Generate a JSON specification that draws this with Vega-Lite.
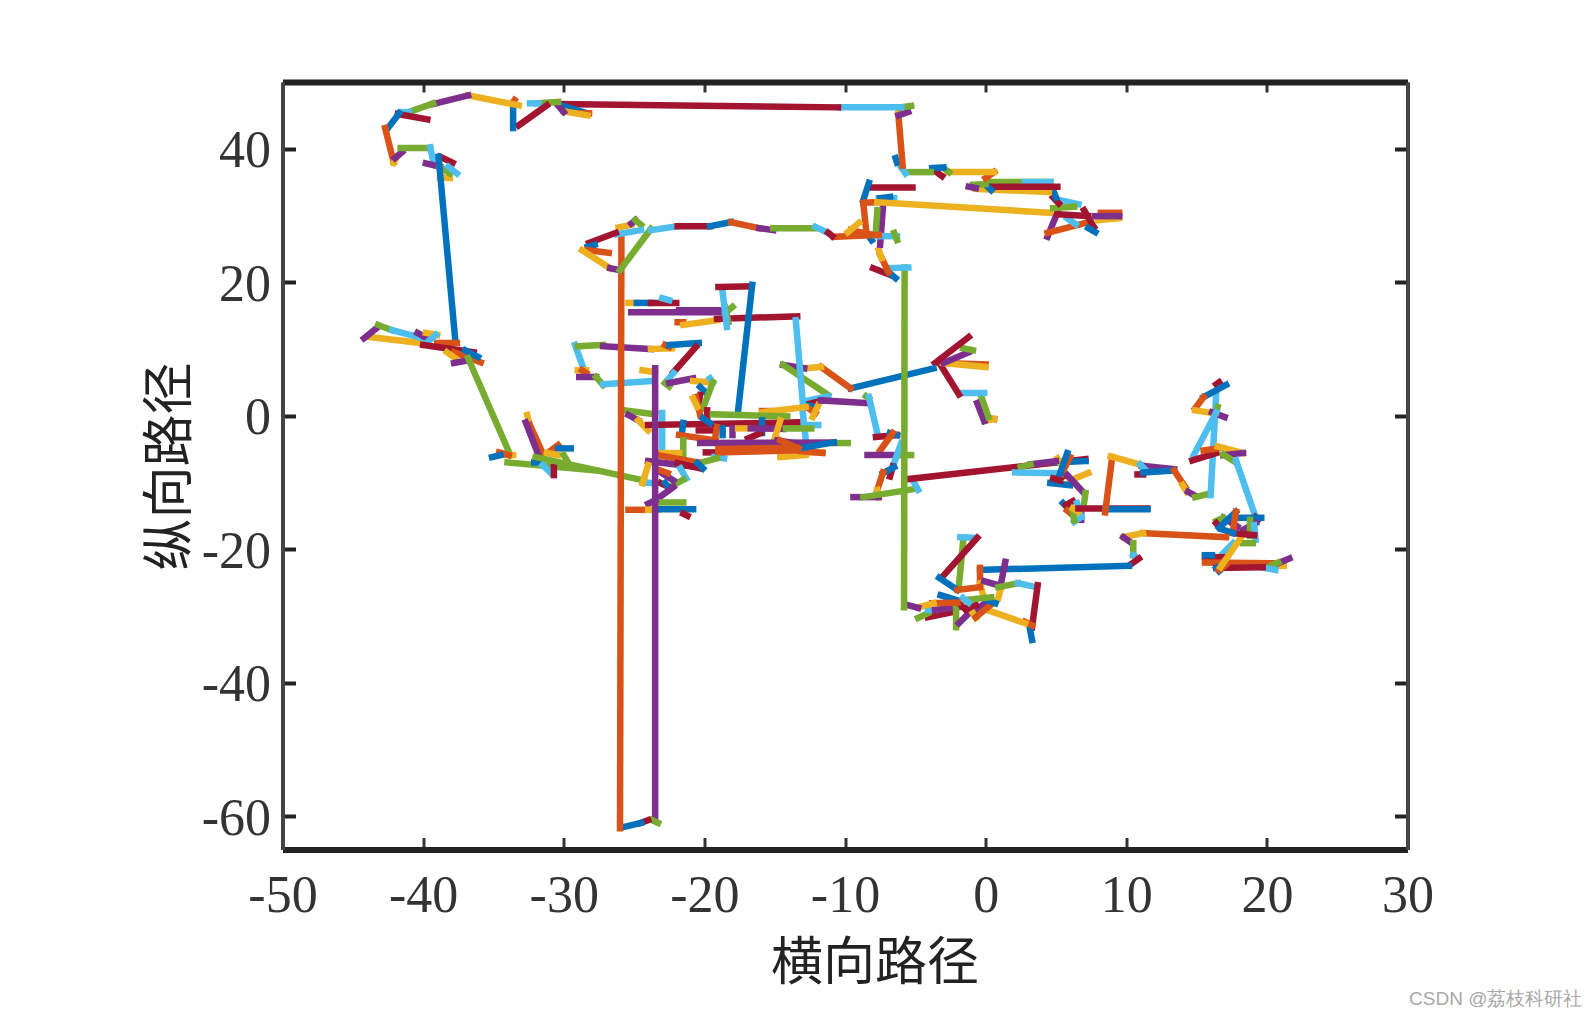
{"$schema":"https://vega.github.io/schema/vega-lite/v6.json","autosize":"none","padding":{"left":282.5,"top":82,"right":188.5,"bottom":170.5},"width":1125,"height":767.5,"background":"white","config":{"view":{"stroke":null}},
"title":{"text":"CSDN @荔枝科研社","orient":"bottom","anchor":"end","frame":"group","font":"Liberation Sans","fontSize":19,"fontWeight":"normal","color":"#a8a8a8","dx":175,"offset":0},
"datasets":{"path":[
{"x":0,"y":0,"x2":0,"y2":-0.3,"c":"b"},{"x":0,"y":-0.3,"x2":0.6,"y2":-0.5,"c":"o"},{"x":0.6,"y":-0.5,"x2":-0.1,"y2":-0.8,"c":"y"},{"x":-0.1,"y":-0.8,"x2":-0.6,"y2":1.9,"c":"p"},{"x":0.2,"y":-0.2,"x2":-0.3,"y2":2.8,"c":"g"},{"x":-0.1,"y":3.4,"x2":-1.6,"y2":3.4,"c":"l"},{"x":-1.9,"y":3.2,"x2":-3.2,"y2":7.6,"c":"m"},{"x":-3.1,"y":7.9,"x2":0,"y2":7.7,"c":"o"},{"x":0,"y":7.3,"x2":-3,"y2":7.9,"c":"y"},{"x":-3,"y":7.9,"x2":-1.2,"y2":9.5,"c":"p"},{"x":-1.6,"y":10.1,"x2":-0.9,"y2":9.8,"c":"g"},{"x":-1.2,"y":11.8,"x2":-3.6,"y2":7.9,"c":"m"},{"x":-3.7,"y":7.1,"x2":-9.6,"y2":4.1,"c":"b"},{"x":-9.6,"y":4.1,"x2":-11.7,"y2":7.3,"c":"o"},{"x":-11.7,"y":7.3,"x2":-12.9,"y2":7.1,"c":"y"},{"x":-12.9,"y":7.1,"x2":-14.4,"y2":7.6,"c":"p"},{"x":-14.4,"y":7.6,"x2":-11.2,"y2":3.1,"c":"g"},{"x":-11.2,"y":2.9,"x2":-12.8,"y2":2.2,"c":"l"},{"x":-12.7,"y":1.7,"x2":-11.7,"y2":2.2,"c":"m"},{"x":-12.9,"y":1.6,"x2":-12.3,"y2":1.4,"c":"b"},{"x":-12.6,"y":1.1,"x2":-12.1,"y2":0.4,"c":"o"},{"x":-11.9,"y":1.6,"x2":-12.3,"y2":-0.2,"c":"y"},{"x":-11.7,"y":2.3,"x2":-8.5,"y2":1.9,"c":"p"},{"x":-8.5,"y":2.9,"x2":-8.3,"y2":2.6,"c":"g"},{"x":-8.3,"y":2.8,"x2":-7.7,"y2":-2.6,"c":"l"},{"x":-7.8,"y":-3.2,"x2":-6.3,"y2":-2.9,"c":"m"},{"x":-6.3,"y":-2.9,"x2":-6.8,"y2":-2.6,"c":"b"},{"x":-6.6,"y":-2.6,"x2":-7.5,"y2":-5.2,"c":"o"},{"x":-8.4,"y":-5.9,"x2":-6.3,"y2":-5.9,"c":"p"},{"x":-5.9,"y":-5.9,"x2":-5.3,"y2":-5.9,"c":"g"},{"x":-6,"y":-4.1,"x2":-6.6,"y2":-7.6,"c":"l"},{"x":-6.6,"y":-7.6,"x2":-6.8,"y2":-9.1,"c":"m"},{"x":-6.5,"y":-7.7,"x2":-7.3,"y2":-8.6,"c":"b"},{"x":-7.3,"y":-8.5,"x2":-7.7,"y2":-11.1,"c":"o"},{"x":-7.7,"y":-11.1,"x2":-7.6,"y2":-12.2,"c":"y"},{"x":-7.6,"y":-12.2,"x2":-9.4,"y2":-12.2,"c":"p"},{"x":-8.7,"y":-12.2,"x2":-5.1,"y2":-11,"c":"g"},{"x":-5.1,"y":-10,"x2":-4.8,"y2":-11.1,"c":"l"},{"x":-5.5,"y":-9.5,"x2":7.1,"y2":-6.5,"c":"m"},{"x":7.1,"y":-6.8,"x2":5.1,"y2":-7,"c":"b"},{"x":5.1,"y":-6.4,"x2":5.3,"y2":-7.1,"c":"y"},{"x":5,"y":-6.8,"x2":3.2,"y2":-7.3,"c":"p"},{"x":3.2,"y":-7.3,"x2":2.5,"y2":-7.7,"c":"g"},{"x":2.1,"y":-8.5,"x2":5.1,"y2":-8.6,"c":"l"},{"x":5.1,"y":-9.4,"x2":5.5,"y2":-9.1,"c":"m"},{"x":6,"y":-6.2,"x2":5.3,"y2":-9.2,"c":"o"},{"x":5.8,"y":-5.6,"x2":5.2,"y2":-9.2,"c":"b"},{"x":7.3,"y":-8.6,"x2":6,"y2":-9.7,"c":"y"},{"x":4.6,"y":-10.1,"x2":6,"y2":-10.4,"c":"b"},{"x":4.8,"y":-9.4,"x2":5.3,"y2":-9.7,"c":"m"},{"x":5.8,"y":-8.9,"x2":7,"y2":-11.6,"c":"p"},{"x":7.1,"y":-11.6,"x2":7,"y2":-13.1,"c":"g"},{"x":5.5,"y":-13.1,"x2":6,"y2":-14.2,"c":"b"},{"x":5.7,"y":-13.4,"x2":6.2,"y2":-12.8,"c":"m"},{"x":5.8,"y":-14.2,"x2":6.2,"y2":-14.9,"c":"o"},{"x":6.8,"y":-14.8,"x2":6.8,"y2":-15.6,"c":"p"},{"x":6.5,"y":-13.1,"x2":6.8,"y2":-15.2,"c":"l"},{"x":6.8,"y":-15.2,"x2":6.3,"y2":-15.9,"c":"l"},{"x":6.2,"y":-14.5,"x2":6.3,"y2":-15.7,"c":"g"},{"x":6.2,"y":-13.9,"x2":6.6,"y2":-14.4,"c":"y"},{"x":6.6,"y":-13.9,"x2":11.5,"y2":-13.9,"c":"m"},{"x":11.5,"y":-14,"x2":8.5,"y2":-14,"c":"b"},{"x":8.5,"y":-14.5,"x2":9,"y2":-6.2,"c":"o"},{"x":8.9,"y":-6.1,"x2":11.1,"y2":-7.4,"c":"y"},{"x":11.1,"y":-7.5,"x2":13.4,"y2":-8,"c":"p"},{"x":11,"y":-7.3,"x2":11.4,"y2":-8.2,"c":"l"},{"x":10.8,"y":-8.8,"x2":11.2,"y2":-8.8,"c":"m"},{"x":11.2,"y":-8.5,"x2":13.4,"y2":-8.2,"c":"b"},{"x":13.4,"y":-8.2,"x2":14.2,"y2":-10.7,"c":"o"},{"x":14,"y":-10.4,"x2":14.3,"y2":-11.4,"c":"y"},{"x":14.4,"y":-11.4,"x2":14.9,"y2":-12,"c":"p"},{"x":14.9,"y":-12.2,"x2":15.9,"y2":-11.7,"c":"g"},{"x":16,"y":-11.9,"x2":16.4,"y2":3.4,"c":"l"},{"x":16.4,"y":4.7,"x2":16.6,"y2":5,"c":"m"},{"x":17.1,"y":4.6,"x2":15.5,"y2":2.8,"c":"b"},{"x":15.5,"y":2.8,"x2":14.9,"y2":1.1,"c":"o"},{"x":14.9,"y":0.8,"x2":16.1,"y2":0.4,"c":"y"},{"x":16.1,"y":0.5,"x2":17,"y2":-0.2,"c":"p"},{"x":16.5,"y":1.3,"x2":16.4,"y2":0.5,"c":"g"},{"x":16.4,"y":0.5,"x2":14.8,"y2":-5.9,"c":"l"},{"x":14.7,"y":-6.7,"x2":16.4,"y2":-5.6,"c":"m"},{"x":15.5,"y":-5.2,"x2":16.5,"y2":-4.9,"c":"o"},{"x":16.5,"y":-4.6,"x2":18.3,"y2":-5.6,"c":"y"},{"x":18.3,"y":-5.6,"x2":16.9,"y2":-5.9,"c":"p"},{"x":16.9,"y":-5.8,"x2":17.8,"y2":-7,"c":"g"},{"x":17.8,"y":-6.7,"x2":19.2,"y2":-15.2,"c":"l"},{"x":19.2,"y":-15.2,"x2":19.4,"y2":-15.5,"c":"m"},{"x":19.6,"y":-15.3,"x2":18.1,"y2":-15.3,"c":"b"},{"x":17.9,"y":-16.6,"x2":16.9,"y2":-15.3,"c":"p"},{"x":16.9,"y":-15.3,"x2":16.4,"y2":-15.8,"c":"g"},{"x":16.4,"y":-16.1,"x2":16.7,"y2":-16.8,"c":"m"},{"x":16.6,"y":-16.8,"x2":17.8,"y2":-14.4,"c":"b"},{"x":17.8,"y":-14.4,"x2":17.6,"y2":-17.1,"c":"o"},{"x":18.3,"y":-17.1,"x2":19.2,"y2":-16.1,"c":"p"},{"x":18.8,"y":-15.6,"x2":18.8,"y2":-18,"c":"g"},{"x":19.1,"y":-16.4,"x2":19.2,"y2":-18.6,"c":"l"},{"x":18.3,"y":-19.1,"x2":19,"y2":-19.1,"c":"g"},{"x":17.6,"y":-19.1,"x2":16.9,"y2":-20.6,"c":"l"},{"x":16.9,"y":-21.2,"x2":15.6,"y2":-21.2,"c":"m"},{"x":15.6,"y":-20.9,"x2":16.1,"y2":-20.9,"c":"b"},{"x":15.6,"y":-22,"x2":20.4,"y2":-22.1,"c":"o"},{"x":20.4,"y":-22.5,"x2":21.2,"y2":-22.5,"c":"y"},{"x":21.6,"y":-21.4,"x2":20.8,"y2":-22.1,"c":"p"},{"x":20.8,"y":-22,"x2":20.3,"y2":-22.5,"c":"g"},{"x":19.8,"y":-22.8,"x2":20.6,"y2":-23.1,"c":"l"},{"x":19.7,"y":-22.7,"x2":16.4,"y2":-22.8,"c":"m"},{"x":16.4,"y":-22.8,"x2":16.6,"y2":-23.3,"c":"b"},{"x":16.6,"y":-23.1,"x2":17.1,"y2":-22.3,"c":"o"},{"x":16.7,"y":-22.7,"x2":18.1,"y2":-18.4,"c":"y"},{"x":19.1,"y":-17.9,"x2":17.6,"y2":-17.6,"c":"m"},{"x":17.6,"y":-17.6,"x2":16.9,"y2":-17.1,"c":"b"},{"x":17.1,"y":-18.2,"x2":11.2,"y2":-17.6,"c":"o"},{"x":11.2,"y":-17.6,"x2":9.8,"y2":-18.2,"c":"y"},{"x":9.8,"y":-18.2,"x2":10.4,"y2":-19.1,"c":"p"},{"x":10.5,"y":-19.1,"x2":10.5,"y2":-20.9,"c":"g"},{"x":10.5,"y":-20.9,"x2":10.7,"y2":-21.2,"c":"l"},{"x":10.3,"y":-22.3,"x2":10.9,"y2":-21.4,"c":"m"},{"x":10.2,"y":-22.5,"x2":-0.4,"y2":-23.1,"c":"b"},{"x":-0.4,"y":-22.8,"x2":-0.4,"y2":-24.9,"c":"o"},{"x":-0.4,"y":-25.1,"x2":-0.2,"y2":-26.7,"c":"y"},{"x":-0.1,"y":-24.8,"x2":0.9,"y2":-25.4,"c":"p"},{"x":1.1,"y":-25.1,"x2":1.4,"y2":-21.9,"c":"p"},{"x":0.9,"y":-27.3,"x2":1.1,"y2":-25.8,"c":"y"},{"x":0.9,"y":-25.7,"x2":2.3,"y2":-25.1,"c":"g"},{"x":2.3,"y":-25.1,"x2":3.6,"y2":-25.7,"c":"l"},{"x":3.7,"y":-25.4,"x2":3.3,"y2":-31.7,"c":"m"},{"x":3.1,"y":-31.4,"x2":3.3,"y2":-33.6,"c":"b"},{"x":3.3,"y":-31.4,"x2":2.8,"y2":-30.9,"c":"o"},{"x":2.8,"y":-31.1,"x2":0.1,"y2":-29.1,"c":"y"},{"x":-1.6,"y":-18.9,"x2":-1.9,"y2":-25.4,"c":"g"},{"x":-1.8,"y":-18.2,"x2":-0.7,"y2":-18.3,"c":"l"},{"x":-0.6,"y":-18.3,"x2":-3.1,"y2":-24.2,"c":"m"},{"x":-3.3,"y":-24.3,"x2":-2,"y2":-26.1,"c":"b"},{"x":-2,"y":-26.1,"x2":-0.4,"y2":-25.7,"c":"o"},{"x":-3.2,"y":-26.9,"x2":-2.1,"y2":-27.6,"c":"b"},{"x":-4.1,"y":-30.2,"x2":-2.3,"y2":-29.4,"c":"m"},{"x":-4.8,"y":-30.3,"x2":-4.1,"y2":-29.6,"c":"g"},{"x":-4.1,"y":-29.1,"x2":-3.6,"y2":-29.1,"c":"l"},{"x":-3.6,"y":-29.1,"x2":-2,"y2":-28.7,"c":"p"},{"x":-2.1,"y":-28.7,"x2":-2.1,"y2":-31.7,"c":"g"},{"x":-1.9,"y":-31.1,"x2":-1.1,"y2":-29.4,"c":"p"},{"x":-0.7,"y":-29.1,"x2":0.1,"y2":-27.9,"c":"p"},{"x":-1.9,"y":-28.1,"x2":-1.4,"y2":-29.1,"c":"m"},{"x":-1.4,"y":-28.8,"x2":-0.7,"y2":-28.4,"c":"m"},{"x":-0.9,"y":-29.6,"x2":-0.7,"y2":-30.3,"c":"y"},{"x":-0.7,"y":-30.2,"x2":0.5,"y2":-28.1,"c":"o"},{"x":0.2,"y":-27.7,"x2":0.7,"y2":-28.1,"c":"b"},{"x":-1.4,"y":-27.6,"x2":0.4,"y2":-27.2,"c":"g"},{"x":-1.6,"y":-27.3,"x2":-1.2,"y2":-28,"c":"l"},{"x":-2,"y":-28,"x2":-3.8,"y2":-28.1,"c":"o"},{"x":-3.7,"y":-28.1,"x2":-4.8,"y2":-28.7,"c":"y"},{"x":-4.8,"y":-28.8,"x2":-5.5,"y2":-28.4,"c":"p"},{"x":-5.8,"y":-28.7,"x2":-5.76,"y2":22.2,"c":"g"},{"x":-5.5,"y":22.2,"x2":-6.9,"y2":22.1,"c":"l"},{"x":-8,"y":22.1,"x2":-6.8,"y2":21.1,"c":"m"},{"x":-6.9,"y":21.5,"x2":-6.4,"y2":20.6,"c":"b"},{"x":-6.9,"y":21.5,"x2":-7.5,"y2":24.1,"c":"o"},{"x":-7.4,"y":23.6,"x2":-7.6,"y2":24.8,"c":"y"},{"x":-7.5,"y":25.6,"x2":-7.3,"y2":31.3,"c":"p"},{"x":-7.8,"y":27.8,"x2":-7.7,"y2":30.8,"c":"g"},{"x":-7.6,"y":26.9,"x2":-6.3,"y2":26.9,"c":"l"},{"x":-6.5,"y":27.4,"x2":-6.3,"y2":26.3,"c":"g"},{"x":-7.6,"y":32.6,"x2":-6.5,"y2":32.6,"c":"l"},{"x":-7.5,"y":32.6,"x2":-6.8,"y2":32.8,"c":"b"},{"x":-5.2,"y":34.2,"x2":-8,"y2":34.2,"c":"m"},{"x":-8.3,"y":34.9,"x2":-8.7,"y2":32.3,"c":"b"},{"x":-8.7,"y":31.9,"x2":-7.7,"y2":32,"c":"o"},{"x":-7.7,"y":32,"x2":4.6,"y2":30.4,"c":"y"},{"x":-8.7,"y":31.9,"x2":-8.5,"y2":27.8,"c":"o"},{"x":-8.2,"y":26.6,"x2":-8.1,"y2":26.3,"c":"b"},{"x":-10.8,"y":26.8,"x2":-7.6,"y2":27.1,"c":"o"},{"x":-9.6,"y":27.8,"x2":-8.2,"y2":27.2,"c":"o"},{"x":-9.8,"y":27.5,"x2":-9,"y2":28.9,"c":"y"},{"x":5.1,"y":30.4,"x2":4.4,"y2":26.8,"c":"p"},{"x":4.4,"y":27.4,"x2":7.3,"y2":29,"c":"o"},{"x":5.8,"y":29.6,"x2":6.4,"y2":28.7,"c":"l"},{"x":5.1,"y":30.2,"x2":7.3,"y2":29.9,"c":"m"},{"x":7,"y":30.8,"x2":7.7,"y2":28.3,"c":"m"},{"x":7.3,"y":28.1,"x2":7.8,"y2":27.5,"c":"b"},{"x":8.2,"y":30.4,"x2":9.5,"y2":30.4,"c":"o"},{"x":8,"y":29.3,"x2":9.5,"y2":29.6,"c":"y"},{"x":7.8,"y":29.9,"x2":9.5,"y2":29.9,"c":"p"},{"x":5.3,"y":32.3,"x2":6.6,"y2":31.7,"c":"l"},{"x":4.8,"y":31.1,"x2":6.3,"y2":31.3,"c":"g"},{"x":4.8,"y":32.7,"x2":5.2,"y2":31.8,"c":"m"},{"x":4.8,"y":33.8,"x2":5,"y2":32.7,"c":"b"},{"x":-0.7,"y":34,"x2":4.5,"y2":33.5,"c":"y"},{"x":0.4,"y":35,"x2":4.6,"y2":35,"c":"g"},{"x":2.8,"y":35,"x2":4.6,"y2":35,"c":"l"},{"x":0.4,"y":34.3,"x2":5.1,"y2":34.3,"c":"m"},{"x":0.1,"y":34.4,"x2":0.4,"y2":33.8,"c":"b"},{"x":-0.9,"y":34.6,"x2":0,"y2":34.7,"c":"g"},{"x":-1.2,"y":34.3,"x2":-0.7,"y2":34.1,"c":"p"},{"x":0.6,"y":36.5,"x2":0,"y2":35.6,"c":"o"},{"x":0.6,"y":36.5,"x2":-2.7,"y2":36.5,"c":"y"},{"x":-3.5,"y":36.5,"x2":-3.1,"y2":35.9,"c":"m"},{"x":-2.8,"y":36.8,"x2":-2.6,"y2":36.5,"c":"g"},{"x":-3,"y":37.2,"x2":-3.8,"y2":37.1,"c":"b"},{"x":-3.9,"y":36.5,"x2":-5.5,"y2":36.5,"c":"g"},{"x":-5.7,"y":36.3,"x2":-6,"y2":37.2,"c":"l"},{"x":-6.4,"y":38.6,"x2":-6.3,"y2":37.9,"c":"b"},{"x":-5.9,"y":37.5,"x2":-6.2,"y2":45,"c":"o"},{"x":-6.2,"y":45.5,"x2":-6.1,"y2":46,"c":"y"},{"x":-6.2,"y":45,"x2":-5.5,"y2":45.5,"c":"p"},{"x":-5.3,"y":46.4,"x2":-6,"y2":46.2,"c":"g"},{"x":-6,"y":46.2,"x2":-10.4,"y2":46.2,"c":"l"},{"x":-10.5,"y":46.2,"x2":-30.4,"y2":46.7,"c":"m"},{"x":-30.2,"y":46.5,"x2":-28.3,"y2":45.3,"c":"b"},{"x":-28.8,"y":45.3,"x2":-28.2,"y2":45.3,"c":"o"},{"x":-28.3,"y":45,"x2":-30,"y2":45.6,"c":"y"},{"x":-30,"y":45.5,"x2":-30.4,"y2":46.5,"c":"p"},{"x":-30.4,"y":47,"x2":-31.9,"y2":46.8,"c":"g"},{"x":-31.8,"y":46.8,"x2":-32.4,"y2":46.8,"c":"l"},{"x":-31.2,"y":46.5,"x2":-33.2,"y2":43.5,"c":"m"},{"x":-33.6,"y":43.1,"x2":-33.6,"y2":46.8,"c":"b"},{"x":-33.6,"y":47,"x2":-33.5,"y2":47.3,"c":"o"},{"x":-33.2,"y":46.5,"x2":-36.8,"y2":48,"c":"y"},{"x":-36.8,"y":48,"x2":-39.3,"y2":46.7,"c":"p"},{"x":-39.3,"y":46.8,"x2":-41,"y2":45.5,"c":"g"},{"x":-41,"y":45.5,"x2":-41.6,"y2":45.5,"c":"l"},{"x":-39.7,"y":44.4,"x2":-41.8,"y2":45.2,"c":"m"},{"x":-41.7,"y":45.3,"x2":-42.5,"y2":43.1,"c":"b"},{"x":-42.7,"y":43.1,"x2":-42.1,"y2":38,"c":"o"},{"x":-42.1,"y":37.9,"x2":-42,"y2":38.3,"c":"y"},{"x":-42,"y":38.6,"x2":-41.5,"y2":39.5,"c":"p"},{"x":-41.6,"y":40.1,"x2":-39.5,"y2":40.1,"c":"g"},{"x":-39.5,"y":40.2,"x2":-39.3,"y2":38.3,"c":"l"},{"x":-39.8,"y":37.8,"x2":-38.8,"y2":37.3,"c":"p"},{"x":-38.8,"y":38.8,"x2":-37.9,"y2":37.9,"c":"m"},{"x":-38.8,"y":35.7,"x2":-38.1,"y2":35.6,"c":"y"},{"x":-38.8,"y":37.3,"x2":-38.1,"y2":36.3,"c":"g"},{"x":-38.2,"y":37.3,"x2":-37.6,"y2":36.3,"c":"l"},{"x":-38.9,"y":38.8,"x2":-37.7,"y2":11,"c":"b"},{"x":-37.6,"y":10.9,"x2":-39,"y2":10.9,"c":"o"},{"x":-40.2,"y":10.9,"x2":-43.9,"y2":11.8,"c":"y"},{"x":-44.2,"y":11.6,"x2":-43.2,"y2":13.3,"c":"p"},{"x":-43.2,"y":13.6,"x2":-42.2,"y2":12.8,"c":"g"},{"x":-42.2,"y":12.8,"x2":-40,"y2":11.6,"c":"l"},{"x":-40.4,"y":12.4,"x2":-39.7,"y2":11.6,"c":"p"},{"x":-39.8,"y":12.4,"x2":-39,"y2":12.1,"c":"y"},{"x":-39.7,"y":11,"x2":-39.1,"y2":12.1,"c":"l"},{"x":-40,"y":10.6,"x2":-36.4,"y2":9.5,"c":"m"},{"x":-37.8,"y":9.5,"x2":-35.9,"y2":8,"c":"o"},{"x":-37,"y":9.8,"x2":-36.1,"y2":8.8,"c":"b"},{"x":-38.3,"y":9.5,"x2":-37.7,"y2":8.6,"c":"y"},{"x":-37.8,"y":7.9,"x2":-36.8,"y2":8.3,"c":"p"},{"x":-36.8,"y":8.6,"x2":-33.8,"y2":-5.9,"c":"g"},{"x":-34.1,"y":-5.9,"x2":-33.6,"y2":-5.9,"c":"y"},{"x":-34.6,"y":-5.5,"x2":-33.9,"y2":-5.9,"c":"o"},{"x":-35.1,"y":-6.2,"x2":-34.5,"y2":-5.9,"c":"b"},{"x":-34,"y":-7,"x2":-27.7,"y2":-8.2,"c":"g"},{"x":-32.6,"y":0.1,"x2":-32.5,"y2":-0.7,"c":"y"},{"x":-32.4,"y":-1.4,"x2":-31.5,"y2":-5.6,"c":"o"},{"x":-32.7,"y":-1,"x2":-31.8,"y2":-5.9,"c":"p"},{"x":-32.1,"y":-7,"x2":-31.6,"y2":-7,"c":"b"},{"x":-31.5,"y":-7.4,"x2":-30.9,"y2":-8.6,"c":"l"},{"x":-30.7,"y":-7.7,"x2":-30.7,"y2":-8.9,"c":"m"},{"x":-30.9,"y":-5.2,"x2":-30.4,"y2":-4.4,"c":"o"},{"x":-30.4,"y":-4.9,"x2":-29.5,"y2":-4.9,"c":"b"},{"x":-31.2,"y":-5.6,"x2":-30.4,"y2":-5.9,"c":"y"},{"x":-32,"y":-6.2,"x2":-24.3,"y2":-9.7,"c":"g"},{"x":-30,"y":-5.9,"x2":-29.7,"y2":-7,"c":"g"},{"x":-24.3,"y":-10,"x2":-23.7,"y2":-10.1,"c":"l"},{"x":-25.4,"y":16.9,"x2":-24.9,"y2":16.9,"c":"y"},{"x":-24.8,"y":16.9,"x2":-23.8,"y2":16.9,"c":"b"},{"x":-23.8,"y":16.9,"x2":-22,"y2":16.9,"c":"m"},{"x":-23,"y":17.6,"x2":-22.5,"y2":17.3,"c":"l"},{"x":-21.9,"y":14,"x2":-21.5,"y2":14,"c":"o"},{"x":-21.5,"y":13.6,"x2":-19.1,"y2":14.3,"c":"y"},{"x":-19.1,"y":14.5,"x2":-13.4,"y2":14.9,"c":"m"},{"x":-25.2,"y":15.5,"x2":-18.7,"y2":15.5,"c":"p"},{"x":-21.8,"y":15.8,"x2":-18.7,"y2":15.8,"c":"p"},{"x":-18.5,"y":15.4,"x2":-18,"y2":16.3,"c":"g"},{"x":-18.5,"y":16.2,"x2":-18.3,"y2":14,"c":"g"},{"x":-18.7,"y":18.5,"x2":-18.4,"y2":13.3,"c":"l"},{"x":-19,"y":19.3,"x2":-16.7,"y2":19.4,"c":"m"},{"x":-16.6,"y":19.6,"x2":-17.6,"y2":0.8,"c":"b"},{"x":-13.5,"y":14.3,"x2":-13,"y2":1.9,"c":"l"},{"x":-13,"y":0.4,"x2":-12.8,"y2":-3.4,"c":"l"},{"x":-13.3,"y":-1.4,"x2":-11.9,"y2":-1.4,"c":"l"},{"x":-29.2,"y":10.6,"x2":-28.6,"y2":7.1,"c":"l"},{"x":-29,"y":10.4,"x2":-27.2,"y2":10.6,"c":"g"},{"x":-27.2,"y":10.4,"x2":-23.8,"y2":10,"c":"p"},{"x":-23.8,"y":10,"x2":-22.3,"y2":10.1,"c":"y"},{"x":-22.8,"y":10.6,"x2":-22.5,"y2":10.3,"c":"o"},{"x":-22.5,"y":10.6,"x2":-20.4,"y2":10.9,"c":"b"},{"x":-20.6,"y":10.3,"x2":-22.2,"y2":6.5,"c":"m"},{"x":-22.2,"y":6.4,"x2":-22.8,"y2":4.9,"c":"l"},{"x":-22.8,"y":4.9,"x2":-22.5,"y2":4.4,"c":"g"},{"x":-22.5,"y":4.9,"x2":-20.8,"y2":5.6,"c":"p"},{"x":-20.8,"y":5.2,"x2":-19.6,"y2":5,"c":"y"},{"x":-19.6,"y":5.6,"x2":-19.4,"y2":5,"c":"l"},{"x":-20.3,"y":4.3,"x2":-19.9,"y2":3.5,"c":"b"},{"x":-20.3,"y":3.1,"x2":-20.4,"y2":2,"c":"m"},{"x":-19.4,"y":5,"x2":-20.1,"y2":1.1,"c":"g"},{"x":-20.6,"y":2.8,"x2":-20.3,"y2":0.1,"c":"o"},{"x":-20.8,"y":2.6,"x2":-20.5,"y2":1.3,"c":"y"},{"x":-19.8,"y":0.8,"x2":-19.8,"y2":-0.4,"c":"m"},{"x":-29,"y":6.8,"x2":-28.4,"y2":6.8,"c":"y"},{"x":-28.7,"y":6.8,"x2":-28.4,"y2":6.4,"c":"o"},{"x":-28.9,"y":5.8,"x2":-27.7,"y2":5.8,"c":"p"},{"x":-27.7,"y":5.8,"x2":-27.2,"y2":4.6,"c":"g"},{"x":-27.2,"y":4.7,"x2":-23.7,"y2":5.2,"c":"l"},{"x":-24.4,"y":6.8,"x2":-23.5,"y2":6.5,"c":"y"},{"x":-25.6,"y":0.8,"x2":-23.5,"y2":0.2,"c":"g"},{"x":-23,"y":0.4,"x2":-23,"y2":-5.2,"c":"l"},{"x":-25.4,"y":0.1,"x2":-24.7,"y2":-0.7,"c":"p"},{"x":-24.7,"y":-0.7,"x2":-24,"y2":-2.2,"c":"y"},{"x":-24,"y":-1.4,"x2":-13.4,"y2":-1,"c":"m"},{"x":-20.1,"y":-0.4,"x2":-19.6,"y2":-1.1,"c":"b"},{"x":-15.9,"y":0.7,"x2":-15.3,"y2":0.7,"c":"o"},{"x":-15.9,"y":0.5,"x2":-12.8,"y2":1.3,"c":"y"},{"x":-19.4,"y":0.2,"x2":-14.1,"y2":-0.1,"c":"g"},{"x":-15.9,"y":-0.7,"x2":-15.9,"y2":-2.6,"c":"b"},{"x":-21.5,"y":-1.1,"x2":-21.6,"y2":-2.6,"c":"b"},{"x":-20.4,"y":-2.2,"x2":-19.3,"y2":-2.2,"c":"m"},{"x":-19.1,"y":-1.7,"x2":-19.2,"y2":-2.9,"c":"o"},{"x":-18.7,"y":-1.9,"x2":-18.7,"y2":-2.9,"c":"b"},{"x":-18,"y":-1.9,"x2":-18,"y2":-2.9,"c":"p"},{"x":-17.6,"y":-1.9,"x2":-16.9,"y2":-1.9,"c":"y"},{"x":-16.9,"y":-3.4,"x2":-16,"y2":-2.6,"c":"m"},{"x":-16.7,"y":-1.9,"x2":-14.4,"y2":-2,"c":"p"},{"x":-14.2,"y":-1.9,"x2":-12.4,"y2":-1.9,"c":"g"},{"x":-14.6,"y":-0.7,"x2":-15.1,"y2":-4.1,"c":"y"},{"x":-21.8,"y":-2.9,"x2":-19.2,"y2":-3.7,"c":"o"},{"x":-21.5,"y":-3.7,"x2":-21.5,"y2":-6.4,"c":"g"},{"x":-14.6,"y":-6.2,"x2":-12.8,"y2":-5.9,"c":"y"},{"x":-12.8,"y":-5.5,"x2":-11.6,"y2":-5.5,"c":"y"},{"x":-13.2,"y":-5.3,"x2":-11.6,"y2":-5.6,"c":"o"},{"x":-10.8,"y":-4.1,"x2":-9.8,"y2":-4.1,"c":"g"},{"x":-20.3,"y":-4.1,"x2":-10.8,"y2":-4,"c":"p"},{"x":-14.8,"y":-3.7,"x2":-12.7,"y2":-4.4,"c":"p"},{"x":-13.3,"y":-4.9,"x2":-10.8,"y2":-4,"c":"b"},{"x":-19.9,"y":-5.5,"x2":-19,"y2":-5.5,"c":"m"},{"x":-19.3,"y":-6.2,"x2":-18.6,"y2":-6.4,"c":"l"},{"x":-19,"y":-5.5,"x2":-13.4,"y2":-5.2,"c":"o"},{"x":-19,"y":-5,"x2":-13.4,"y2":-4.8,"c":"o"},{"x":-14.6,"y":-3.7,"x2":-13.3,"y2":-4.9,"c":"o"},{"x":-20.4,"y":-7.1,"x2":-19.1,"y2":-6.4,"c":"g"},{"x":-23.3,"y":-5.6,"x2":-21.8,"y2":-5.6,"c":"y"},{"x":-23.3,"y":-5.9,"x2":-20.5,"y2":-7,"c":"o"},{"x":-24,"y":-6.8,"x2":-20.5,"y2":-7.7,"c":"p"},{"x":-21.9,"y":-7.1,"x2":-20.3,"y2":-7.9,"c":"m"},{"x":-20.5,"y":-7.1,"x2":-20.1,"y2":-7.9,"c":"b"},{"x":-21.7,"y":-7.9,"x2":-21.3,"y2":-9.4,"c":"l"},{"x":-21.5,"y":-9.6,"x2":-22.2,"y2":-10.4,"c":"g"},{"x":-24,"y":-7.4,"x2":-24.4,"y2":-10.1,"c":"y"},{"x":-23.3,"y":-8.2,"x2":-22.2,"y2":-9.7,"c":"p"},{"x":-23.1,"y":-8.2,"x2":-22.6,"y2":-8.6,"c":"o"},{"x":-23.1,"y":-10.1,"x2":-22.5,"y2":-10.7,"c":"m"},{"x":-22.8,"y":-10.1,"x2":-22.5,"y2":-10.9,"c":"b"},{"x":-23.5,"y":-12.7,"x2":-22.2,"y2":-10.7,"c":"p"},{"x":-23.1,"y":-13,"x2":-21.5,"y2":-13,"c":"g"},{"x":-24,"y":-13.2,"x2":-23.5,"y2":-12.7,"c":"p"},{"x":-25.4,"y":-14.1,"x2":-24,"y2":-14.1,"c":"o"},{"x":-24,"y":-14.1,"x2":-23.3,"y2":-14.1,"c":"y"},{"x":-23.3,"y":-14,"x2":-20.8,"y2":-14,"c":"b"},{"x":-21.5,"y":-14.7,"x2":-21.2,"y2":-15,"c":"m"},{"x":-23.5,"y":7.1,"x2":-23.5,"y2":-60.7,"c":"p"},{"x":-23.7,"y":-60.6,"x2":-23.3,"y2":-61,"c":"g"},{"x":-24.5,"y":-61,"x2":-24,"y2":-60.6,"c":"m"},{"x":-25.7,"y":-61.6,"x2":-24.5,"y2":-61,"c":"b"},{"x":-26,"y":-61.8,"x2":-25.9,"y2":26.7,"c":"o"},{"x":-26.1,"y":28.2,"x2":-25.2,"y2":28.6,"c":"y"},{"x":-25.2,"y":28.8,"x2":-24.9,"y2":29.3,"c":"p"},{"x":-24.9,"y":29.3,"x2":-24.5,"y2":28.6,"c":"g"},{"x":-24.5,"y":27.8,"x2":-26.2,"y2":27.2,"c":"l"},{"x":-26.3,"y":27.4,"x2":-28.2,"y2":25.9,"c":"m"},{"x":-28.3,"y":25.3,"x2":-27.8,"y2":25.6,"c":"b"},{"x":-26.8,"y":24.4,"x2":-28.3,"y2":24.8,"c":"o"},{"x":-28.7,"y":24.8,"x2":-26.7,"y2":22.1,"c":"y"},{"x":-26.7,"y":22.1,"x2":-26,"y2":21.8,"c":"p"},{"x":-26,"y":21.8,"x2":-23.8,"y2":28,"c":"g"},{"x":-23.8,"y":27.8,"x2":-21.9,"y2":28.4,"c":"l"},{"x":-21.9,"y":28.4,"x2":-19.6,"y2":28.4,"c":"m"},{"x":-19.6,"y":28.4,"x2":-18.1,"y2":29,"c":"b"},{"x":-18.1,"y":29,"x2":-16.1,"y2":28.1,"c":"o"},{"x":-16.1,"y":28.1,"x2":-15.1,"y2":27.8,"c":"p"},{"x":-15.1,"y":28.1,"x2":-12.1,"y2":28.1,"c":"g"},{"x":-12.1,"y":28.3,"x2":-11.2,"y2":27.4,"c":"l"},{"x":-11.2,"y":27.4,"x2":-10.9,"y2":26.9,"c":"m"}
]},
"layer":[
{"data":{"name":"path"},"mark":{"type":"rule","strokeWidth":6.5,"strokeCap":"square"},
"encoding":{
"x":{"field":"x","type":"quantitative","scale":{"domain":[-50,30],"nice":false,"zero":false},
"axis":{"orient":"bottom","values":[-50,-40,-30,-20,-10,0,10,20,30],"grid":false,"labelFlush":false,"labelOverlap":false,"domainWidth":6,"domainColor":"#222","tickColor":"#333","tickWidth":3,"tickSize":-12,"labelPadding":33,"labelFont":"Liberation Serif","labelFontSize":52,"labelColor":"#333","labelExpr":"''+datum.value","title":"横向路径","titleFont":"Noto Sans CJK SC","titleFontSize":52,"titleFontWeight":"normal","titleColor":"#222","titleX":592,"titleY":130,"titleAnchor":"middle","titleAlign":"center","titleBaseline":"alphabetic"}},
"y":{"field":"y","type":"quantitative","scale":{"domain":[-65,50],"nice":false,"zero":false},
"axis":{"orient":"left","values":[-60,-40,-20,0,20,40],"grid":false,"labelFlush":false,"labelOverlap":false,"domainWidth":4,"domainColor":"#444","tickColor":"#222","tickWidth":4,"tickSize":-13,"labelPadding":25,"labelOffset":2,"labelFont":"Liberation Serif","labelFontSize":52,"labelColor":"#333","labelExpr":"''+datum.value","title":"纵向路径","titleFont":"Noto Sans CJK SC","titleFontSize":52,"titleFontWeight":"normal","titleColor":"#222","titleX":-96,"titleY":384,"titleAnchor":"middle","titleAlign":"center","titleBaseline":"alphabetic"}},
"x2":{"field":"x2"},"y2":{"field":"y2"},
"color":{"field":"c","type":"nominal","legend":null,"scale":{"domain":["b","o","y","p","g","l","m"],"range":["#0072BD","#D95319","#EDB120","#7E2F8E","#77AC30","#4DBEEE","#A2142F"]}}}},
{"data":{"values":[{"x":0,"y":0}]},"mark":{"type":"point","opacity":0},
"encoding":{
"x":{"field":"x","type":"quantitative","scale":{"domain":[-50,30],"nice":false,"zero":false},
"axis":{"orient":"top","values":[-50,-40,-30,-20,-10,0,10,20,30],"grid":false,"labels":false,"title":null,"domainWidth":6,"domainColor":"#222","tickColor":"#333","tickWidth":3,"tickSize":-10}},
"y":{"field":"y","type":"quantitative","scale":{"domain":[-65,50],"nice":false,"zero":false},
"axis":{"orient":"right","values":[-60,-40,-20,0,20,40],"grid":false,"labels":false,"title":null,"domainWidth":4,"domainColor":"#444","tickColor":"#222","tickWidth":4,"tickSize":-13}}}}
],
"resolve":{"axis":{"x":"independent","y":"independent"}}
}
